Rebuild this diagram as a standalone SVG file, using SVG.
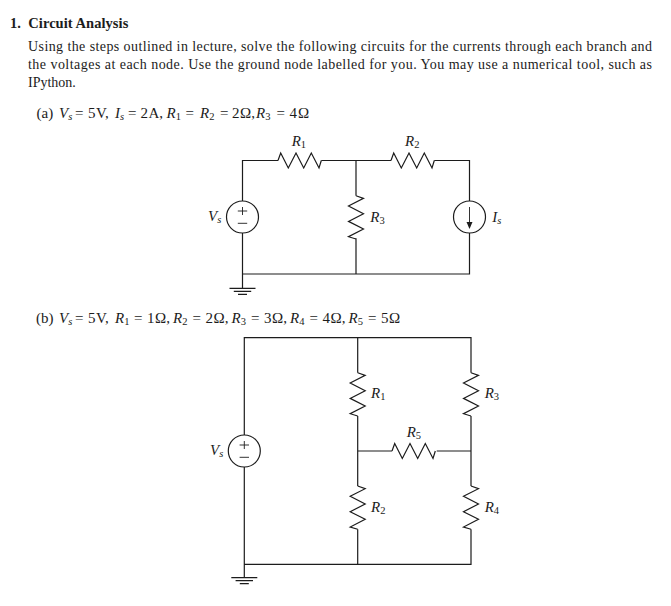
<svg xmlns="http://www.w3.org/2000/svg" width="671" height="606" viewBox="0 0 671 606">
<defs><style>
text{font-family:"Liberation Serif","Times New Roman",serif;font-size:14px;fill:#1c1c1c}
.m{font-size:15px}
.i{font-style:italic}
.s{font-size:10.5px}
.w{fill:none;stroke:#1c1c1c;stroke-width:1.2;stroke-linejoin:miter}
.t{fill:none;stroke:#1c1c1c;stroke-width:.9}
.c{fill:#fff;stroke:#1c1c1c;stroke-width:1.2}
.l{font-size:15px}
</style>
<path id="rh" d="M0 0l2.7-7.5l7.6 15l7.7-15l7.7 15l7.6-15l7.7 15l2.3-7.5"/>
<path id="rv" d="M0 0l7.5 2.7l-15 7.6l15 7.7l-15 7.7l15 7.6l-15 7.7l7.5 2.3"/>
<path id="gnd" d="M-13 0h26M-8.7 3h17.4M-4.5 6h9"/>
</defs>
<rect width="671" height="606" fill="#fff"/>
<g id="problem-text">
<text y="28" style="font-weight:bold;font-size:14.5px"><tspan x="10">1.</tspan><tspan x="28.3" textLength="100">Circuit Analysis</tspan></text>
<text x="28" y="51" textLength="624">Using the steps outlined in lecture, solve the following circuits for the currents through each branch and</text>
<text x="28" y="69" textLength="624">the voltages at each node.  Use the ground node labelled for you.  You may use a numerical tool, such as</text>
<text x="28" y="87">IPython.</text>
<text class="m" x="36.5" y="118">(a)<tspan class="i" x="59">V</tspan><tspan class="i s" dy="2">s</tspan><tspan dy="-2" x="75">=</tspan><tspan x="88">5</tspan><tspan x="96">V,</tspan><tspan class="i" x="115">I</tspan><tspan class="i s" dy="2">s</tspan><tspan dy="-2" x="128">=</tspan><tspan x="140.5">2</tspan><tspan x="148.5">A,</tspan><tspan class="i" x="166.5">R</tspan><tspan class="s" dy="2">1</tspan><tspan dy="-2" x="185.5">=</tspan><tspan class="i" x="200">R</tspan><tspan class="s" dy="2">2</tspan><tspan dy="-2" x="220">=</tspan><tspan x="232">2</tspan><tspan x="240">Ω,</tspan><tspan class="i" x="256">R</tspan><tspan class="s" dy="2">3</tspan><tspan dy="-2" x="276.5">=</tspan><tspan x="289.5">4</tspan><tspan x="298">Ω</tspan></text>
<text class="m" x="36" y="323">(b)<tspan class="i" x="59">V</tspan><tspan class="i s" dy="2">s</tspan><tspan dy="-2" x="75">=</tspan><tspan x="88">5</tspan><tspan x="96">V,</tspan><tspan class="i" x="115">R</tspan><tspan class="s" dy="2">1</tspan><tspan dy="-2" x="134">=</tspan><tspan x="147">1</tspan><tspan x="155">Ω,</tspan><tspan class="i" x="173">R</tspan><tspan class="s" dy="2">2</tspan><tspan dy="-2" x="192.5">=</tspan><tspan x="205.5">2</tspan><tspan x="213.5">Ω,</tspan><tspan class="i" x="231.5">R</tspan><tspan class="s" dy="2">3</tspan><tspan dy="-2" x="251">=</tspan><tspan x="264">3</tspan><tspan x="272">Ω,</tspan><tspan class="i" x="290">R</tspan><tspan class="s" dy="2">4</tspan><tspan dy="-2" x="309.5">=</tspan><tspan x="322.5">4</tspan><tspan x="330.5">Ω,</tspan><tspan class="i" x="348.5">R</tspan><tspan class="s" dy="2">5</tspan><tspan dy="-2" x="368">=</tspan><tspan x="381">5</tspan><tspan x="389">Ω</tspan></text>
</g>
<g id="connectors-a">
<path class="w" d="M242.5 201V160.5H278M321.3 160.5H391M434.3 160.5H469.5V201M356 160.5V195.7M356 238.3V274M242.5 233V288.3M242.5 274H469.5V233"/>
</g>
<g id="a-r1"><use href="#rh" class="w" x="278" y="160.5"/><text class="l" x="291.7" y="146"><tspan class="i">R</tspan><tspan class="s" dy="2">1</tspan></text></g>
<g id="a-r2"><use href="#rh" class="w" x="391" y="160.5"/><text class="l" x="405" y="146"><tspan class="i">R</tspan><tspan class="s" dy="2">2</tspan></text></g>
<g id="a-r3"><use href="#rv" class="w" x="356" y="195.7"/><text class="l" x="370.3" y="221.7"><tspan class="i">R</tspan><tspan class="s" dy="2">3</tspan></text></g>
<g id="a-vs"><circle class="c" cx="242.5" cy="217" r="16"/><path class="t" d="M237.8 211h9.4M242.5 207v8M237.8 223.3h9.4"/><text class="l" x="208" y="220.7"><tspan class="i">V</tspan><tspan class="i s" dy="2">s</tspan></text></g>
<g id="a-is"><circle class="c" cx="469.5" cy="217" r="16"/><path class="t" d="M469.5 207V224"/><path d="M466.5 222h6l-3 7z" fill="#1c1c1c"/><text class="l" x="492.3" y="221.7"><tspan class="i">I</tspan><tspan class="i s" dy="2">s</tspan></text></g>
<g id="a-gnd"><use href="#gnd" class="w" x="242.5" y="288.3"/></g>
<g id="connectors-b">
<path class="w" d="M244.3 435V337.7H471V372.7M357.7 337.7V372.7M357.7 416V486M471 416V486M357.7 451H392M436.7 451H471M357.7 529.3V564.3M471 529.3V564.3H244.3M244.3 467V577.7"/>
</g>
<g id="b-r1"><use href="#rv" class="w" x="357.7" y="372.7"/><text class="l" x="371" y="398.3"><tspan class="i">R</tspan><tspan class="s" dy="2">1</tspan></text></g>
<g id="b-r2"><use href="#rv" class="w" x="357.7" y="486"/><text class="l" x="371" y="511.7"><tspan class="i">R</tspan><tspan class="s" dy="2">2</tspan></text></g>
<g id="b-r3"><use href="#rv" class="w" x="471" y="372.7"/><text class="l" x="484.7" y="398.3"><tspan class="i">R</tspan><tspan class="s" dy="2">3</tspan></text></g>
<g id="b-r4"><use href="#rv" class="w" x="471" y="486"/><text class="l" x="484.7" y="511.7"><tspan class="i">R</tspan><tspan class="s" dy="2">4</tspan></text></g>
<g id="b-r5"><use href="#rh" class="w" x="392" y="451"/><text class="l" x="406.7" y="436.7"><tspan class="i">R</tspan><tspan class="s" dy="2">5</tspan></text></g>
<g id="b-vs"><circle class="c" cx="244.3" cy="451" r="16"/><path class="t" d="M239.6 445h9.4M244.3 441v8M239.6 457.3h9.4"/><text class="l" x="210" y="455"><tspan class="i">V</tspan><tspan class="i s" dy="2">s</tspan></text></g>
<g id="b-gnd"><use href="#gnd" class="w" x="244.3" y="577.7"/></g>
</svg>
